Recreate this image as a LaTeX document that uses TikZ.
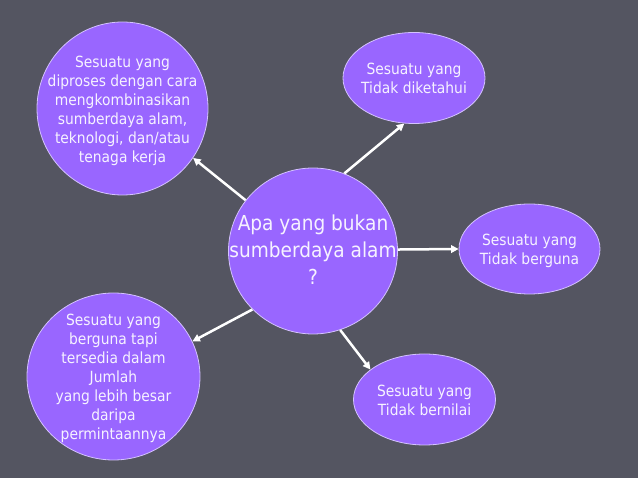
\documentclass[tikz,border=0pt]{standalone}
\usepackage{fontspec}
\setmainfont{DejaVu Sans}[FakeStretch=0.9]
\usetikzlibrary{shapes.geometric,arrows.meta}
\definecolor{bgcol}{HTML}{545561}
\definecolor{bubblefill}{HTML}{9966FF}
\definecolor{bubbleline}{HTML}{D4C2FF}
\definecolor{textcol}{HTML}{F6F2FF}
\newcommand\bubbletext[3]{\raisebox{-12pt}{\smash{\makebox[0pt]{\fontsize{#1}{#2}\selectfont\begin{tabular}{@{}c@{}}#3\end{tabular}}}}}
\tikzset{
  bubble/.style={ellipse, fill=bubblefill, draw=bubbleline, line width=0.8pt, inner sep=0pt, text=textcol},
  link/.style={draw=white, line width=2.5pt, -{Triangle[length=7.5pt,width=7.5pt]}}
}
\begin{document}
\begin{tikzpicture}[x=1pt,y=-1pt]
\fill[bgcol] (0,0) rectangle (638,478);
\useasboundingbox (0,0) rectangle (638,478);
\node[bubble, minimum width=171pt, minimum height=173pt] (tl) at (122.5,108.5)
  {\bubbletext{15.4}{19}{Sesuatu yang\\diproses dengan cara\\mengkombinasikan\\sumberdaya alam,\\teknologi, dan/atau\\tenaga kerja}};
\node[bubble, minimum width=142pt, minimum height=91pt] (tr) at (414,78)
  {\bubbletext{15.4}{19}{Sesuatu yang\\Tidak diketahui}};
\node[bubble, minimum width=169pt, minimum height=166pt] (c) at (313,251)
  {\bubbletext{20.6}{27}{Apa yang bukan\\sumberdaya alam\\?}};
\node[bubble, minimum width=141pt, minimum height=90pt] (r) at (529.5,249)
  {\bubbletext{15.4}{19}{Sesuatu yang\\Tidak berguna}};
\node[bubble, minimum width=142pt, minimum height=91pt] (br) at (424.5,399.5)
  {\bubbletext{15.4}{19}{Sesuatu yang\\Tidak bernilai}};
\node[bubble, minimum width=173pt, minimum height=167pt] (bl) at (113.5,376.5)
  {\bubbletext{15.4}{19}{Sesuatu yang\\berguna tapi\\tersedia dalam\\Jumlah\\yang lebih besar\\daripa\\permintaannya}};
\draw[link] (c.143) -- (tl.-35);
\draw[link] (c.68) -- (tr.-102);
\draw[link] (c.1) -- (r.180);
\draw[link] (c.-71) -- (br.151);
\draw[link] (c.-136) -- (bl.24);
\end{tikzpicture}
\end{document}
